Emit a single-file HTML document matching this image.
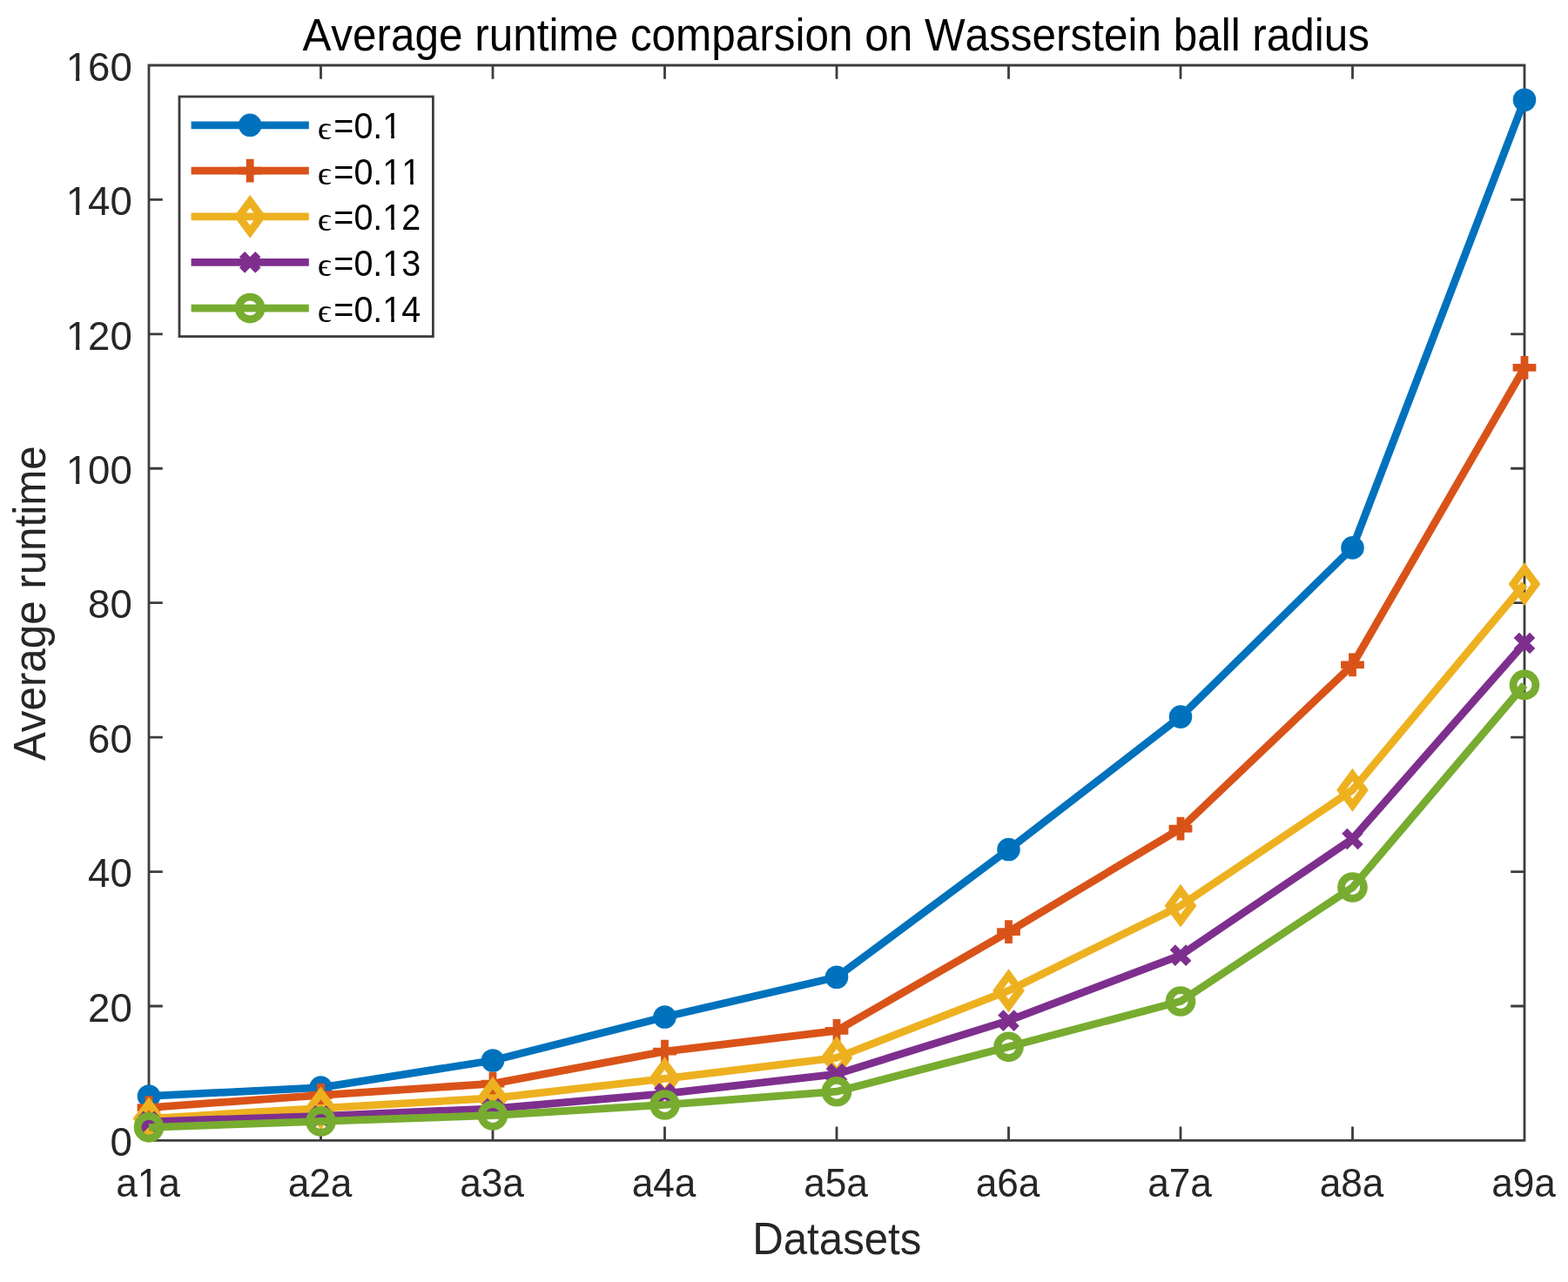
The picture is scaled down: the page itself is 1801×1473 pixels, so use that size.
<!DOCTYPE html>
<html><head><meta charset="utf-8"><title>Average runtime comparsion on Wasserstein ball radius</title>
<style>
html,body{margin:0;padding:0;background:#fff;}
body{width:1801px;height:1473px;overflow:hidden;}
svg{display:block;}
text{font-family:"Liberation Sans",Arial,Helvetica,sans-serif;font-kerning:none;}
.eps{font-family:"Liberation Serif","DejaVu Serif",serif;}
</style></head><body>
<svg width="1801" height="1473" viewBox="0 0 1801 1473">
<rect x="0" y="0" width="1801" height="1473" fill="#fff"/>
<defs><clipPath id="c1_1"><path clip-rule="evenodd" d="M-127.25 -92.6H50V46.3H-127.25ZM-74.76 -6.78H-65.7V13.89H-74.76ZM-61.42 -6.78H-52.61V13.89H-61.42Z"/></clipPath><clipPath id="c1_2"><path clip-rule="evenodd" d="M-127.25 -92.6H50V46.3H-127.25ZM-74.76 -6.78H-65.7V13.89H-74.76ZM-61.42 -6.78H-52.61V13.89H-61.42Z"/></clipPath><clipPath id="c1_3"><path clip-rule="evenodd" d="M-127.25 -92.6H50V46.3H-127.25ZM-74.76 -6.78H-65.7V13.89H-74.76ZM-61.42 -6.78H-52.61V13.89H-61.42Z"/></clipPath><clipPath id="c1_4"><path clip-rule="evenodd" d="M-127.25 -92.6H50V46.3H-127.25ZM-74.76 -6.78H-65.7V13.89H-74.76ZM-61.42 -6.78H-52.61V13.89H-61.42Z"/></clipPath><clipPath id="c1_5"><path clip-rule="evenodd" d="M-88.29 -91.8H88.29V45.9H-88.29ZM-10.3 -6.72H-1.31V13.77H-10.3ZM2.92 -6.72H11.67V13.77H2.92Z"/></clipPath><clipPath id="c1_6"><path clip-rule="evenodd" d="M-50 -85.5H134.39V42.75H-50ZM62.91 -6.26H71.28V12.82H62.91ZM75.23 -6.26H83.37V12.82H75.23Z"/></clipPath><clipPath id="c1_7"><path clip-rule="evenodd" d="M-50 -85.5H158.17V42.75H-50ZM62.91 -6.26H71.28V12.82H62.91ZM75.23 -6.26H83.37V12.82H75.23ZM86.69 -6.26H95.06V12.82H86.69ZM99.01 -6.26H107.15V12.82H99.01Z"/></clipPath><clipPath id="c1_8"><path clip-rule="evenodd" d="M-50 -85.5H158.17V42.75H-50ZM62.91 -6.26H71.28V12.82H62.91ZM75.23 -6.26H83.37V12.82H75.23Z"/></clipPath><clipPath id="c1_9"><path clip-rule="evenodd" d="M-50 -85.5H158.17V42.75H-50ZM62.91 -6.26H71.28V12.82H62.91ZM75.23 -6.26H83.37V12.82H75.23Z"/></clipPath><clipPath id="c1_10"><path clip-rule="evenodd" d="M-50 -85.5H158.17V42.75H-50ZM62.91 -6.26H71.28V12.82H62.91ZM75.23 -6.26H83.37V12.82H75.23Z"/></clipPath></defs>
<path d="M171.0 75.0H1751.0V1310.4H171.0ZM171 1310.4v-15.8M171 75.0v15.8M368.5 1310.4v-15.8M368.5 75.0v15.8M566 1310.4v-15.8M566 75.0v15.8M763.5 1310.4v-15.8M763.5 75.0v15.8M961 1310.4v-15.8M961 75.0v15.8M1158.5 1310.4v-15.8M1158.5 75.0v15.8M1356 1310.4v-15.8M1356 75.0v15.8M1553.5 1310.4v-15.8M1553.5 75.0v15.8M1751 1310.4v-15.8M1751 75.0v15.8M171.0 1310.4h15.8M1751.0 1310.4h-15.8M171.0 1155.98h15.8M1751.0 1155.98h-15.8M171.0 1001.55h15.8M1751.0 1001.55h-15.8M171.0 847.13h15.8M1751.0 847.13h-15.8M171.0 692.7h15.8M1751.0 692.7h-15.8M171.0 538.27h15.8M1751.0 538.27h-15.8M171.0 383.85h15.8M1751.0 383.85h-15.8M171.0 229.43h15.8M1751.0 229.43h-15.8M171.0 75h15.8M1751.0 75h-15.8" stroke="#3c3c3c" stroke-width="2.8" fill="none"/>
<text transform="translate(151.8 1328.1) scale(0.985 1)" font-size="46.3" text-anchor="end" fill="#262626">0</text>
<text transform="translate(151.8 1173.68) scale(0.985 1)" font-size="46.3" text-anchor="end" fill="#262626">20</text>
<text transform="translate(151.8 1019.25) scale(0.985 1)" font-size="46.3" text-anchor="end" fill="#262626">40</text>
<text transform="translate(151.8 864.83) scale(0.985 1)" font-size="46.3" text-anchor="end" fill="#262626">60</text>
<text transform="translate(151.8 710.4) scale(0.985 1)" font-size="46.3" text-anchor="end" fill="#262626">80</text>
<text transform="translate(151.8 555.98) scale(0.985 1)" font-size="46.3" text-anchor="end" fill="#262626" clip-path="url(#c1_1)">100</text>
<text transform="translate(151.8 401.55) scale(0.985 1)" font-size="46.3" text-anchor="end" fill="#262626" clip-path="url(#c1_2)">120</text>
<text transform="translate(151.8 247.13) scale(0.985 1)" font-size="46.3" text-anchor="end" fill="#262626" clip-path="url(#c1_3)">140</text>
<text transform="translate(151.8 92.7) scale(0.985 1)" font-size="46.3" text-anchor="end" fill="#262626" clip-path="url(#c1_4)">160</text>
<text transform="translate(170 1374.6) scale(0.963 1)" font-size="45.9" text-anchor="middle" fill="#262626" clip-path="url(#c1_5)">a1a</text>
<text transform="translate(367.5 1374.6) scale(0.963 1)" font-size="45.9" text-anchor="middle" fill="#262626">a2a</text>
<text transform="translate(565 1374.6) scale(0.963 1)" font-size="45.9" text-anchor="middle" fill="#262626">a3a</text>
<text transform="translate(762.5 1374.6) scale(0.963 1)" font-size="45.9" text-anchor="middle" fill="#262626">a4a</text>
<text transform="translate(960 1374.6) scale(0.963 1)" font-size="45.9" text-anchor="middle" fill="#262626">a5a</text>
<text transform="translate(1157.5 1374.6) scale(0.963 1)" font-size="45.9" text-anchor="middle" fill="#262626">a6a</text>
<text transform="translate(1355 1374.6) scale(0.963 1)" font-size="45.9" text-anchor="middle" fill="#262626">a7a</text>
<text transform="translate(1552.5 1374.6) scale(0.963 1)" font-size="45.9" text-anchor="middle" fill="#262626">a8a</text>
<text transform="translate(1750 1374.6) scale(0.963 1)" font-size="45.9" text-anchor="middle" fill="#262626">a9a</text>
<text transform="translate(961.3 1440.7) scale(0.963 1)" font-size="51.1" text-anchor="middle" fill="#262626">Datasets</text>
<text transform="translate(51.7 693.2) rotate(-90) scale(0.965 1)" font-size="51.1" text-anchor="middle" fill="#262626">Average runtime</text>
<text transform="translate(960.2 58.2) scale(0.968 1)" font-size="51.1" text-anchor="middle" fill="#000">Average runtime comparsion on Wasserstein ball radius</text>
<polyline points="171,1259.44 368.5,1249.56 566,1218.52 763.5,1168.56 961,1122.77 1158.5,976.07 1356,823.58 1553.5,629.39 1751,114.76" fill="none" stroke="#0072BD" stroke-width="8.8" stroke-linejoin="round"/>
<circle cx="171" cy="1259.44" r="13.3" fill="#0072BD"/><circle cx="368.5" cy="1249.56" r="13.3" fill="#0072BD"/><circle cx="566" cy="1218.52" r="13.3" fill="#0072BD"/><circle cx="763.5" cy="1168.56" r="13.3" fill="#0072BD"/><circle cx="961" cy="1122.77" r="13.3" fill="#0072BD"/><circle cx="1158.5" cy="976.07" r="13.3" fill="#0072BD"/><circle cx="1356" cy="823.58" r="13.3" fill="#0072BD"/><circle cx="1553.5" cy="629.39" r="13.3" fill="#0072BD"/><circle cx="1751" cy="114.76" r="13.3" fill="#0072BD"/>
<polyline points="171,1272.57 368.5,1258.28 566,1245.16 763.5,1208.09 961,1184.31 1158.5,1070.66 1356,952.13 1553.5,763.97 1751,422.46" fill="none" stroke="#D95319" stroke-width="8.8" stroke-linejoin="round"/>
<path d="M157.6 1272.57H184.4M171 1259.17V1285.97" stroke="#D95319" stroke-width="8.8" fill="none"/><path d="M355.1 1258.28H381.9M368.5 1244.88V1271.68" stroke="#D95319" stroke-width="8.8" fill="none"/><path d="M552.6 1245.16H579.4M566 1231.76V1258.56" stroke="#D95319" stroke-width="8.8" fill="none"/><path d="M750.1 1208.09H776.9M763.5 1194.69V1221.49" stroke="#D95319" stroke-width="8.8" fill="none"/><path d="M947.6 1184.31H974.4M961 1170.91V1197.71" stroke="#D95319" stroke-width="8.8" fill="none"/><path d="M1145.1 1070.66H1171.9M1158.5 1057.26V1084.06" stroke="#D95319" stroke-width="8.8" fill="none"/><path d="M1342.6 952.13H1369.4M1356 938.73V965.53" stroke="#D95319" stroke-width="8.8" fill="none"/><path d="M1540.1 763.97H1566.9M1553.5 750.57V777.37" stroke="#D95319" stroke-width="8.8" fill="none"/><path d="M1737.6 422.46H1764.4M1751 409.06V435.86" stroke="#D95319" stroke-width="8.8" fill="none"/>
<polyline points="171,1285.31 368.5,1273.34 566,1261.76 763.5,1239.29 961,1215.27 1158.5,1138.22 1356,1040.7 1553.5,907.74 1751,671.08" fill="none" stroke="#EDB120" stroke-width="8.8" stroke-linejoin="round"/>
<path d="M171 1267.81L183.9 1285.31L171 1302.81L158.1 1285.31Z" stroke="#EDB120" stroke-width="8.8" fill="none" stroke-miterlimit="10"/><path d="M368.5 1255.84L381.4 1273.34L368.5 1290.84L355.6 1273.34Z" stroke="#EDB120" stroke-width="8.8" fill="none" stroke-miterlimit="10"/><path d="M566 1244.26L578.9 1261.76L566 1279.26L553.1 1261.76Z" stroke="#EDB120" stroke-width="8.8" fill="none" stroke-miterlimit="10"/><path d="M763.5 1221.79L776.4 1239.29L763.5 1256.79L750.6 1239.29Z" stroke="#EDB120" stroke-width="8.8" fill="none" stroke-miterlimit="10"/><path d="M961 1197.77L973.9 1215.27L961 1232.77L948.1 1215.27Z" stroke="#EDB120" stroke-width="8.8" fill="none" stroke-miterlimit="10"/><path d="M1158.5 1120.72L1171.4 1138.22L1158.5 1155.72L1145.6 1138.22Z" stroke="#EDB120" stroke-width="8.8" fill="none" stroke-miterlimit="10"/><path d="M1356 1023.2L1368.9 1040.7L1356 1058.2L1343.1 1040.7Z" stroke="#EDB120" stroke-width="8.8" fill="none" stroke-miterlimit="10"/><path d="M1553.5 890.24L1566.4 907.74L1553.5 925.24L1540.6 907.74Z" stroke="#EDB120" stroke-width="8.8" fill="none" stroke-miterlimit="10"/><path d="M1751 653.58L1763.9 671.08L1751 688.58L1738.1 671.08Z" stroke="#EDB120" stroke-width="8.8" fill="none" stroke-miterlimit="10"/>
<polyline points="171,1288.78 368.5,1282.29 566,1273.88 763.5,1256.66 961,1234.11 1158.5,1172.58 1356,1097.68 1553.5,963.95 1751,739.03" fill="none" stroke="#7E2F8E" stroke-width="8.8" stroke-linejoin="round"/>
<path d="M161.8 1279.58L180.2 1297.98M161.8 1297.98L180.2 1279.58" stroke="#7E2F8E" stroke-width="8.8" fill="none"/><path d="M359.3 1273.09L377.7 1291.49M359.3 1291.49L377.7 1273.09" stroke="#7E2F8E" stroke-width="8.8" fill="none"/><path d="M556.8 1264.68L575.2 1283.08M556.8 1283.08L575.2 1264.68" stroke="#7E2F8E" stroke-width="8.8" fill="none"/><path d="M754.3 1247.46L772.7 1265.86M754.3 1265.86L772.7 1247.46" stroke="#7E2F8E" stroke-width="8.8" fill="none"/><path d="M951.8 1224.91L970.2 1243.31M951.8 1243.31L970.2 1224.91" stroke="#7E2F8E" stroke-width="8.8" fill="none"/><path d="M1149.3 1163.38L1167.7 1181.78M1149.3 1181.78L1167.7 1163.38" stroke="#7E2F8E" stroke-width="8.8" fill="none"/><path d="M1346.8 1088.48L1365.2 1106.88M1346.8 1106.88L1365.2 1088.48" stroke="#7E2F8E" stroke-width="8.8" fill="none"/><path d="M1544.3 954.75L1562.7 973.15M1544.3 973.15L1562.7 954.75" stroke="#7E2F8E" stroke-width="8.8" fill="none"/><path d="M1741.8 729.83L1760.2 748.23M1741.8 748.23L1760.2 729.83" stroke="#7E2F8E" stroke-width="8.8" fill="none"/>
<polyline points="171,1295.34 368.5,1288.47 566,1281.52 763.5,1269.48 961,1254.19 1158.5,1202.84 1356,1150.57 1553.5,1019.54 1751,786.9" fill="none" stroke="#77AC30" stroke-width="8.8" stroke-linejoin="round"/>
<circle cx="171" cy="1295.34" r="12.9" stroke="#77AC30" stroke-width="8.8" fill="none"/><circle cx="368.5" cy="1288.47" r="12.9" stroke="#77AC30" stroke-width="8.8" fill="none"/><circle cx="566" cy="1281.52" r="12.9" stroke="#77AC30" stroke-width="8.8" fill="none"/><circle cx="763.5" cy="1269.48" r="12.9" stroke="#77AC30" stroke-width="8.8" fill="none"/><circle cx="961" cy="1254.19" r="12.9" stroke="#77AC30" stroke-width="8.8" fill="none"/><circle cx="1158.5" cy="1202.84" r="12.9" stroke="#77AC30" stroke-width="8.8" fill="none"/><circle cx="1356" cy="1150.57" r="12.9" stroke="#77AC30" stroke-width="8.8" fill="none"/><circle cx="1553.5" cy="1019.54" r="12.9" stroke="#77AC30" stroke-width="8.8" fill="none"/><circle cx="1751" cy="786.9" r="12.9" stroke="#77AC30" stroke-width="8.8" fill="none"/>
<rect x="206.0" y="111.0" width="291.4" height="275.6" fill="#fff" stroke="#3c3c3c" stroke-width="2.8"/>
<path d="M219.6 143.8H354.8" stroke="#0072BD" stroke-width="8.8" fill="none"/>
<circle cx="287.2" cy="143.8" r="13.3" fill="#0072BD"/>
<text transform="translate(364.7 159.8) scale(1.08 1)" font-size="37" fill="#000" class="eps">ϵ</text>
<text transform="translate(383.3 159.3) scale(0.925 1)" font-size="42.75" fill="#000" clip-path="url(#c1_6)">=0.1</text>
<path d="M219.6 196.2H354.8" stroke="#D95319" stroke-width="8.8" fill="none"/>
<path d="M273.8 196.2H300.6M287.2 182.8V209.6" stroke="#D95319" stroke-width="8.8" fill="none"/>
<text transform="translate(364.7 212.2) scale(1.08 1)" font-size="37" fill="#000" class="eps">ϵ</text>
<text transform="translate(383.3 211.7) scale(0.925 1)" font-size="42.75" fill="#000" clip-path="url(#c1_7)">=0.11</text>
<path d="M219.6 248.8H354.8" stroke="#EDB120" stroke-width="8.8" fill="none"/>
<path d="M287.2 231.3L300.1 248.8L287.2 266.3L274.3 248.8Z" stroke="#EDB120" stroke-width="8.8" fill="none" stroke-miterlimit="10"/>
<text transform="translate(364.7 264.8) scale(1.08 1)" font-size="37" fill="#000" class="eps">ϵ</text>
<text transform="translate(383.3 264.3) scale(0.925 1)" font-size="42.75" fill="#000" clip-path="url(#c1_8)">=0.12</text>
<path d="M219.6 301.4H354.8" stroke="#7E2F8E" stroke-width="8.8" fill="none"/>
<path d="M278 292.2L296.4 310.6M278 310.6L296.4 292.2" stroke="#7E2F8E" stroke-width="8.8" fill="none"/>
<text transform="translate(364.7 317.4) scale(1.08 1)" font-size="37" fill="#000" class="eps">ϵ</text>
<text transform="translate(383.3 316.9) scale(0.925 1)" font-size="42.75" fill="#000" clip-path="url(#c1_9)">=0.13</text>
<path d="M219.6 354.1H354.8" stroke="#77AC30" stroke-width="8.8" fill="none"/>
<circle cx="287.2" cy="354.1" r="12.9" stroke="#77AC30" stroke-width="8.8" fill="none"/>
<text transform="translate(364.7 370.1) scale(1.08 1)" font-size="37" fill="#000" class="eps">ϵ</text>
<text transform="translate(383.3 369.6) scale(0.925 1)" font-size="42.75" fill="#000" clip-path="url(#c1_10)">=0.14</text>
</svg></body></html>
